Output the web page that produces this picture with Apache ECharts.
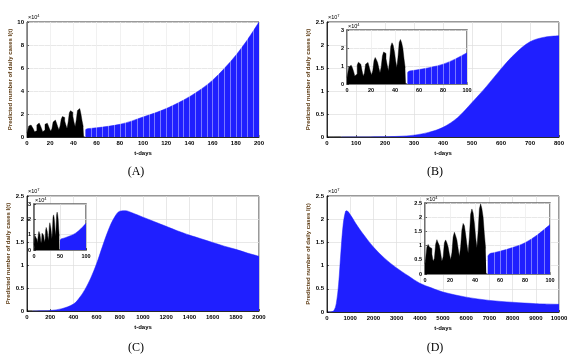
<!DOCTYPE html>
<html><head><meta charset="utf-8">
<script src="https://cdn.jsdelivr.net/npm/echarts@6/dist/echarts.min.js"></script>
<style>html,body{margin:0;padding:0;background:#fff}#c{width:577px;height:364px}</style>
</head><body><div id="c"></div>
<script>
// ---- Data ----
// Observed daily cases, days 0..49, units of 10^4
const blackDays = [0,1,2,3,4,5,6,7,8,9,10,11,12,13,14,15,16,17,18,19,20,21,22,23,24,25,26,27,28,29,30,31,32,33,34,35,36,37,38,39,40,41,42,43,44,45,46,47,48,49];
const blackVals = [0.35,0.55,0.95,1.04,0.95,0.9,0.7,0.45,0.55,1.05,1.21,1.1,1.0,0.75,0.45,0.6,1.1,1.2,1.1,0.95,0.7,0.5,0.75,1.3,1.47,1.35,1.2,0.9,0.62,0.95,1.55,1.78,1.7,1.4,1.05,0.74,1.3,2.1,2.29,2.15,1.8,1.3,0.92,1.5,2.3,2.47,2.3,2.0,1.4,0.9];
// Panel A prediction, days 50..200, units of 10^4
const blueADays = [50,52,55,60,70,80,90,100,110,120,130,140,150,160,170,180,190,200];
const blueAVals = [0.62,0.72,0.75,0.8,0.93,1.1,1.38,1.74,2.08,2.47,2.95,3.5,4.15,4.94,5.95,7.1,8.45,10];
// Panel B prediction, units of 10^7
const blueBDays = [50,150,200,250,300,350,400,450,500,550,600,650,700,750,800];
const blueBVals = [0.0001,0.002,0.005,0.015,0.04,0.1,0.21,0.42,0.75,1.1,1.48,1.82,2.07,2.17,2.2];
// Panel C prediction, units of 10^7
const blueCDays = [50,150,200,300,400,450,500,550,600,650,700,750,800,850,900,1000,1100,1200,1300,1400,1500,1600,1700,1800,1900,2000];
const blueCVals = [0.0001,0.004,0.01,0.05,0.15,0.28,0.47,0.72,1.03,1.4,1.75,2.02,2.17,2.18,2.14,2.04,1.94,1.84,1.74,1.65,1.57,1.49,1.41,1.34,1.26,1.19];
// Panel D prediction, units of 10^7
const blueDDays = [50,200,300,400,500,600,700,800,850,1000,1250,1500,2000,2500,3000,3500,4000,4500,5000,6000,7000,8000,9000,10000];
const blueDVals = [0.0001,0.005,0.03,0.18,0.6,1.3,1.9,2.17,2.18,2.1,1.9,1.72,1.4,1.15,0.95,0.78,0.62,0.52,0.43,0.32,0.25,0.21,0.18,0.165];
const captions = ['(A)','(B)','(C)','(D)'];
const yTitle = 'Predicted number of daily cases I(t)';
const xTitle = 't-days';

// ---- Build chart ----
const BLUE = '#1f1fff';
const FONT = 'Liberation Sans';
const grids = [], xAxes = [], yAxes = [], series = [], graphic = [];

function panel(o) {
  const gi = grids.length;
  const inset = !!o.inset;
  const zb = inset ? 6 : 1;
  grids.push({left:o.left, top:o.top, width:o.width, height:o.height, show:true,
    backgroundColor:'#fff', borderColor: inset ? '#666' : '#000', borderWidth: inset ? 1.5 : 0.8,
    z: inset ? 5 : 0});
  const lab = {fontSize: inset ? 5.5 : 6, fontWeight:'bold', color:'#000', fontFamily:FONT, margin:3,
    formatter: v => String(v)};
  const common = {
    gridIndex:gi, type:'value', min:0, z: zb,
    axisLine:{onZero:false, lineStyle:{color: inset ? '#666' : '#000', width: inset?1.5:0.8}},
    axisTick:{inside:true, length:2, lineStyle:{color:'#000', width:0.6}},
    splitLine:{show:true, lineStyle:{color:'#dedede', width:0.7}},
    axisLabel:lab
  };
  const xi = xAxes.length;
  xAxes.push(Object.assign({}, common, {max:o.xmax, interval:o.xint, position:'bottom',
    name: inset ? '' : xTitle, nameLocation:'middle', nameGap:13,
    nameTextStyle:{fontSize:6, fontWeight:'bold', color:'#000', fontFamily:FONT}}));
  if (o.stripe) {
    // thin light stripes seen across the blue fill (rendering texture)
    xAxes.push({gridIndex:gi, type:'value', min:0, max:o.xmax, interval:o.stripe, position:'top',
      z: zb + 2, axisLine:{show:false}, axisTick:{show:false}, axisLabel:{show:false},
      splitLine:{show:true, lineStyle:{color:'rgba(255,255,255,0.5)', width:0.8}}});
  }
  yAxes.push(Object.assign({}, common, {max:o.ymax, interval:o.yint,
    name: inset ? '' : yTitle, nameLocation:'middle', nameGap:12, nameRotate:90,
    nameTextStyle:{fontSize:6, fontWeight:'bold', color:'#5c3a12', fontFamily:FONT}}));
  const scale = o.scale;
  const bd = o.bd, bv = o.bv;
  const pts = [];
  bd.forEach((d,i)=>{ if (d <= o.xmax) pts.push([d, bv[i]]); });
  series.push({type:'line', xAxisIndex:xi, yAxisIndex:gi, z: zb + 1, symbol:'none',
    smooth:0.35, lineStyle:{width:0.5, color:BLUE},
    areaStyle:{color:BLUE, opacity:1}, data:pts});
  series.push({type:'line', xAxisIndex:xi, yAxisIndex:gi, z: zb + 4, symbol:'none',
    step:'middle', lineStyle:{width:0.4, color:'#000'}, areaStyle:{color:'#000', opacity:1},
    data: blackDays.map((d,i)=>[d, blackVals[i]*scale])});
  graphic.push({type:'text', left:o.left + 1, top:o.top - (inset ? 7 : 8), z:20,
    style:{text:'×10{s|' + o.exp + '}', fontSize:5.5, fontFamily:FONT, fill:'#000',
      rich:{s:{fontSize:4, verticalAlign:'top', fontFamily:FONT}}}});
}

// Panel A
panel({left:27, top:22, width:232, height:115, xmax:200, xint:20, ymax:10, yint:2, scale:1, bd:blueADays, bv:blueAVals, exp:4, stripe:5});
// Panel B
panel({left:327, top:22, width:232, height:115, xmax:800, xint:100, ymax:2.5, yint:0.5, scale:0.001, bd:blueBDays, bv:blueBVals, exp:7});
panel({left:347, top:30, width:120, height:54, xmax:100, xint:20, ymax:3, yint:1, scale:1, bd:blueADays, bv:blueAVals, exp:4, inset:true, stripe:5});
// Panel C
panel({left:27, top:196, width:232, height:115, xmax:2000, xint:200, ymax:2.5, yint:0.5, scale:0.001, bd:blueCDays, bv:blueCVals, exp:7});
panel({left:34, top:204, width:52, height:46, xmax:100, xint:50, ymax:3, yint:1, scale:1, bd:blueADays, bv:blueAVals, exp:4, inset:true});
// Panel D
panel({left:327, top:196, width:232, height:116, xmax:10000, xint:1000, ymax:2.5, yint:0.5, scale:0.001, bd:blueDDays, bv:blueDVals, exp:7});
panel({left:425, top:203, width:125, height:71, xmax:100, xint:20, ymax:2.5, yint:0.5, scale:1, bd:blueADays, bv:blueAVals, exp:4, inset:true, stripe:5});

const capPos = [[136,166],[435,166],[136,342],[435,342]];
captions.forEach((c,i)=>{
  graphic.push({type:'text', x:capPos[i][0], y:capPos[i][1], z:20,
    style:{text:c, fontSize:12, fontFamily:'Liberation Serif', fill:'#000', align:'center'}});
});

const chart = echarts.init(document.getElementById('c'), null, {renderer:'canvas'});
chart.setOption({animation:false, backgroundColor:'#fff', grid:grids, xAxis:xAxes, yAxis:yAxes, series:series, graphic:graphic});
</script></body></html>
